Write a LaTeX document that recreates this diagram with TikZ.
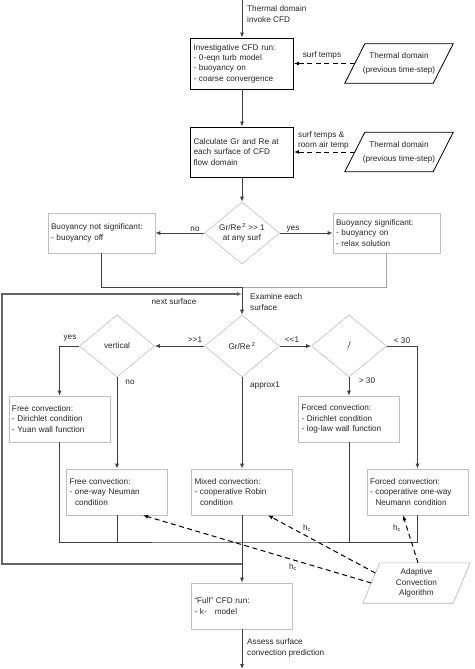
\documentclass[tikz,border=0pt]{standalone}
\usepackage{fontspec}
\setmainfont{Liberation Sans}
\usetikzlibrary{arrows.meta,shapes.geometric,calc}
\begin{document}
\begin{tikzpicture}[x=1pt,y=-1pt,
  font=\fontsize{8.2}{10.3}\selectfont, text=black!85,
  bbox/.style={rectangle, draw=black, line width=0.9pt, inner xsep=3pt, inner ysep=2pt, align=left},
  lbox/.style={rectangle, draw=black!25, line width=0.6pt, inner xsep=3pt, inner ysep=2pt, align=left},
  cbox/.style={lbox, text width=95pt, minimum height=46pt},
  dia/.style={diamond, draw=black!25, line width=0.6pt, minimum width=75pt, minimum height=62pt, inner sep=0pt},
  para/.style={rectangle, inner sep=0pt, minimum width=88pt, minimum height=39pt, align=center},
  conn/.style={draw=black!75, line width=0.8pt},
  lconn/.style={draw=black!35, line width=0.7pt},
  arr/.style={conn, -{Latex[length=5pt,width=4pt]}},
  looparr/.style={draw=black!60, line width=1.1pt, -{Latex[length=5pt,width=4pt]}},
  darr/.style={draw=black, line width=1pt, dash pattern=on 5pt off 3.5pt, -{Latex[length=5pt,width=4pt]}},
  lab/.style={inner sep=0pt, align=left}
]
\useasboundingbox (0,0) rectangle (474,669);

% top
\coordinate (top) at (242,0);
\node[bbox, text width=97pt, minimum height=51pt] (box1) at (242,63.5)
  {Investigative CFD run:\\- 0-eqn turb model\\- buoyancy on\\- coarse convergence};
\node[bbox, text width=97pt, minimum height=50pt] (box2) at (242,152)
  {Calculate Gr and Re at\\each surface of CFD\\flow domain};
\node[para] (td1) at (399,63.5) {Thermal domain\\[3.5pt](previous time-step)};
\node[para] (td2) at (399,152) {Thermal domain\\[3.5pt](previous time-step)};
\draw[black, line width=0.8pt] ($(td1.south west)+(-10,0)$) -- ($(td1.north west)+(10,0)$) -- ($(td1.north east)+(10,0)$) -- ($(td1.south east)+(-10,0)$) -- cycle;
\draw[black, line width=0.8pt] ($(td2.south west)+(-10,0)$) -- ($(td2.north west)+(10,0)$) -- ($(td2.north east)+(10,0)$) -- ($(td2.south east)+(-10,0)$) -- cycle;

\node[lab, anchor=west] (lt) at (247,14) {Thermal domain\\invoke CFD};
\node[lab] (ls1) at (322,55) {surf temps};
\node[lab, anchor=west] (ls2) at (298,140.5) {surf temps \&\\room air temp};

% first decision
\node[dia] (d1) at (242,233) {};
\node[align=center, inner sep=0pt] (d1t) at (d1) {Gr/Re\,\textsuperscript{2} >\kern0pt> 1\\at any surf};
\node[lbox, text width=101pt, minimum height=40pt] (bnot) at (101.5,233)
  {Buoyancy not significant:\\- buoyancy off};
\node[lbox, text width=101pt, minimum height=40pt] (bsig) at (386.5,233)
  {Buoyancy significant:\\- buoyancy on\\- relax solution};
\node[lab] (lno1) at (195,229) {no};
\node[lab] (lyes1) at (293,229) {yes};

% second decision row
\node[dia] (d2) at (242,346) {};
\node[inner sep=0pt] (d2t) at (d2) {Gr/Re\,\textsuperscript{2}};
\node[dia] (vert) at (117,346) {};
\node[inner sep=0pt] (vertt) at (vert) {vertical};
\node[dia] (d3) at (349,346) {};
\node[inner sep=0pt] (d3t) at (d3) {{\fontsize{5}{5}\selectfont\raisebox{-2.5pt}{/}}\hspace{-0.3pt}/};

\node[lab, anchor=west] (lex) at (250,302) {Examine each\\surface};
\node[lab] (lnext) at (174,302) {next surface};
\node[lab] (lgg) at (195,340) {>\kern0pt>1};
\node[lab] (lll) at (292,340) {<\kern0pt<1};
\node[lab] (lyes2) at (70,338) {yes};
\node[lab] (lno2) at (130,382) {no};
\node[lab] (lapp) at (265,386) {approx1};
\node[lab] (lg30) at (367,381) {> 30};
\node[lab] (ll30) at (402,341) {< 30};

% boxes
\node[cbox] (free1) at (59.5,419) {Free convection:\\- Dirichlet condition\\- Yuan wall function};
\node[cbox] (free2) at (117,492) {Free convection:\\- one-way Neuman\\\hspace*{5.5pt}condition};
\node[cbox] (mixed) at (242,492) {Mixed convection:\\- cooperative Robin\\\hspace*{5.5pt}condition};
\node[cbox] (forced1) at (349,419) {Forced convection:\\- Dirichlet condition\\- log-law wall function};
\node[cbox] (forced2) at (417.5,492) {Forced convection:\\- cooperative one-way\\\hspace*{5.5pt}Neumann condition};
\node[cbox] (full) at (242,606) {“Full” CFD run:\\- k-\hspace{8pt}model};

\node[para, minimum width=90pt, minimum height=40pt] (adapt) at (416.5,583) {Adaptive\\Convection\\Algorithm};
\draw[black!30, line width=0.6pt] ($(adapt.south west)+(-8.5,0)$) -- ($(adapt.north west)+(8.5,0)$) -- ($(adapt.north east)+(8.5,0)$) -- ($(adapt.south east)+(-8.5,0)$) -- cycle;

\node[lab, anchor=west] (lass) at (247,648) {Assess surface\\convection prediction};

% connectors
\draw[arr] (top) -- (box1.north);
\draw[arr] (box1.south) -- (box2.north);
\draw[arr] (box2.south) -- (d1.north);
\draw[darr] (td1.west) -- (box1.east);
\draw[darr] (td2.west) -- (box2.east);
\draw[arr] (d1.west) -- (bnot.east);
\draw[arr] (d1.east) -- (bsig.west);
\coordinate (m1) at (242,287);
\draw[conn] (bnot.south) |- (m1);
\draw[lconn] (bsig.south) |- (m1);
\draw[arr] (m1) -- (d2.north);

\coordinate (lp) at (242,294);
\coordinate (ltl) at (2,294);
\coordinate (lj) at (242,564);
\draw[looparr] (lj) -| (ltl) -- (lp);

\draw[arr] (d2.west) -- (vert.east);
\draw[arr] (vert.west) -| (free1.north);
\draw[arr] (vert.south) -- (free2.north);
\draw[arr] (d2.south) -- (mixed.north);
\draw[arr] (d2.east) -- (d3.west);
\draw[arr] (d3.south) -- (forced1.north);
\draw[arr] (d3.east) -| (forced2.north);

\coordinate (bar) at (242,542);
\draw[conn] (free1.south) |- (bar) -| (forced2.south);
\draw[conn] (free2.south) -- (free2.south |- bar);
\draw[conn] (forced1.south) -- (forced1.south |- bar);
\draw[arr] (mixed.south) -- (full.north);
\coordinate (bot) at (242,669);
\draw[arr] (full.south) -- (bot);

\draw[darr] (adapt.west) -- ($(free2.south)+(26,0)$);
\draw[darr] ($(adapt.west)+(4,-10)$) -- ($(mixed.south)+(26,0)$);
\draw[darr] ($(adapt.north)+(1.5,0)$) -- ($(forced2.south)+(-14.5,0)$);
\node[lab] (hc1) at (307,528) {h\textsubscript{c}};
\node[lab] (hc2) at (397,528) {h\textsubscript{c}};
\node[lab] (hc3) at (293,567) {h\textsubscript{c}};
\end{tikzpicture}
\end{document}
